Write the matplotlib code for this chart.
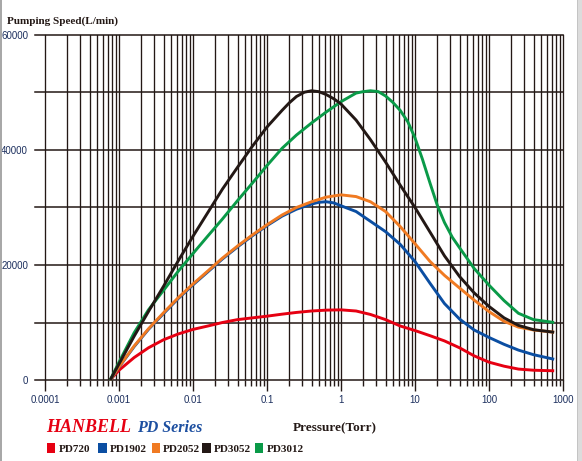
import matplotlib
matplotlib.use("Agg")
import matplotlib.pyplot as plt
from matplotlib.patches import Rectangle

# ---------------- data ----------------
series_names = ["PD720", "PD1902", "PD2052", "PD3052", "PD3012"]
series_colors = ["#e60012", "#0b4ea2", "#f07a22", "#231815", "#0a9a48"]

pd720_p = [0.00076, 0.001, 0.0016, 0.0025, 0.004, 0.0063, 0.01, 0.016, 0.025, 0.04,
           0.063, 0.1, 0.16, 0.25, 0.4, 0.63, 1, 1.6, 2.5, 4, 6.3, 10, 16, 25, 40,
           63, 100, 160, 250, 400, 760]
pd720_v = [0, 1700, 3900, 5600, 7000, 8000, 8800, 9400, 10000, 10500,
           10800, 11100, 11450, 11750, 12000, 12150, 12200, 12000, 11400, 10500, 9400, 8600, 7700, 6800, 5600,
           4200, 3100, 2400, 1900, 1700, 1600]

pd1902_p = [0.00076, 0.001, 0.0016, 0.0025, 0.004, 0.0063, 0.01, 0.016, 0.025, 0.04,
            0.063, 0.1, 0.16, 0.25, 0.4, 0.5, 0.63, 0.8, 1, 1.6, 2.5, 4, 6.3, 10, 16,
            25, 40, 63, 100, 160, 250, 400, 760]
pd1902_v = [0, 2250, 5800, 8800, 11550, 14150, 16550, 18850, 21050, 23150,
            25050, 26850, 28500, 29700, 30600, 30900, 31000, 30800, 30300, 29300, 27600, 25800, 23600, 20600, 16800,
            13300, 10600, 8700, 7400, 6200, 5200, 4400, 3600]

pd2052_p = [0.00076, 0.001, 0.0016, 0.0025, 0.004, 0.0063, 0.01, 0.016, 0.025, 0.04,
            0.063, 0.1, 0.16, 0.25, 0.4, 0.63, 1, 1.6, 2.5, 4, 6.3, 10, 16, 25, 40,
            63, 100, 160, 250, 400, 760]
pd2052_v = [0, 2300, 5900, 8900, 11700, 14300, 16700, 19000, 21200, 23300,
            25200, 27000, 28700, 30000, 31000, 31800, 32200, 31900, 31000, 29300, 26700, 23700, 20600, 18200, 16000,
            13900, 11900, 10200, 9200, 8700, 8300]

pd3052_p = [0.00076, 0.001, 0.0016, 0.0025, 0.004, 0.0063, 0.01, 0.016, 0.025, 0.04,
            0.063, 0.1, 0.16, 0.2, 0.25, 0.32, 0.4, 0.5, 0.63, 0.8, 1, 1.6, 2.5, 4, 6.3,
            10, 16, 25, 40, 63, 100, 160, 250, 400, 760]
pd3052_v = [0, 2800, 7600, 11900, 16300, 20700, 25000, 29200, 33200, 37000,
            40600, 44000, 46900, 48200, 49300, 50050, 50300, 50150, 49650, 48900, 48000, 45200, 41800, 37900, 33900,
            30000, 25700, 21600, 18000, 15150, 12800, 10800, 9500, 8750, 8300]

pd3012_p = [0.00076, 0.001, 0.0016, 0.0025, 0.004, 0.0063, 0.01, 0.016, 0.025, 0.04,
            0.063, 0.1, 0.16, 0.25, 0.4, 0.63, 1, 1.6, 2.0, 2.5, 3.2, 4, 5, 6.3, 8,
            10, 12.6, 16, 20, 25, 32, 40, 63, 100, 160, 250, 400, 760]
pd3012_v = [0, 3100, 8200, 12200, 15600, 18900, 22000, 25100, 28000, 31200,
            34200, 37300, 40300, 42600, 44700, 46600, 48400, 49900, 50150, 50300, 50150, 49400, 48300, 46900, 44900,
            42100, 38400, 34200, 30400, 27400, 24800, 23000, 19400, 16500, 13800, 11600, 10500, 10000]

x_tick_values = [0.0001, 0.001, 0.01, 0.1, 1, 10, 100, 1000]
x_tick_labels = ["0.0001", "0.001", "0.01", "0.1", "1", "10", "100", "1000"]
y_grid_values = [0, 10000, 20000, 30000, 40000, 50000, 60000]
y_tick_labels = ["0", "", "20000", "", "40000", "", "60000"]

# ---------------- figure ----------------
W, H = 582, 461
fig = plt.figure(figsize=(W / 100, H / 100), dpi=100)
fig.patch.set_facecolor("white")

left_px, right_px, top_px, bottom_px = 35, 563, 35, 380
ax = fig.add_axes([left_px / W, 1 - bottom_px / H, (right_px - left_px) / W, (bottom_px - top_px) / H])
ax.set_xscale("log")
ax.set_xlim(10 ** (-4 - 10 / 74), 1000)
ax.set_ylim(0, 60000)
for s in ax.spines.values():
    s.set_visible(False)
ax.set_facecolor("white")

grid_color = "#231815"
label_color = "#1c2f5e"

minor = [m * d for d in [0.0001, 0.001, 0.01, 0.1, 1, 10, 100] for m in range(2, 10)]
ax.set_xticks(x_tick_values)
ax.set_xticklabels(x_tick_labels)
ax.set_xticks(minor, minor=True)
ax.set_xticklabels([], minor=True)
ax.set_yticks(y_grid_values)
ax.set_yticklabels(y_tick_labels)

ax.tick_params(axis="x", which="major", length=8, width=1.0, color=grid_color,
               labelcolor=label_color, labelsize=7, pad=3)
ax.tick_params(axis="x", which="minor", length=4.5, width=1.0, color=grid_color)
ax.tick_params(axis="y", which="major", length=0, labelcolor=label_color, labelsize=7, pad=5)
for lab in ax.get_xticklabels() + ax.get_yticklabels():
    lab.set_fontfamily("Liberation Sans")

ax.grid(True, which="both", axis="x", color=grid_color, lw=0.95)
ax.grid(True, which="major", axis="y", color=grid_color, lw=1.1)
ax.set_axisbelow(True)
for gl in ax.get_xgridlines() + ax.get_ygridlines():
    gl.set_clip_on(False)
for gl in ax.xaxis.get_minorticklines() + ax.xaxis.get_majorticklines():
    gl.set_clip_on(False)

data = {
    "PD720": (pd720_p, pd720_v),
    "PD1902": (pd1902_p, pd1902_v),
    "PD2052": (pd2052_p, pd2052_v),
    "PD3052": (pd3052_p, pd3052_v),
    "PD3012": (pd3012_p, pd3012_v),
}
cmap = dict(zip(series_names, series_colors))
for name in ["PD720", "PD1902", "PD2052", "PD3012", "PD3052"]:
    p, v = data[name]
    ax.plot(p, v, color=cmap[name], lw=2.1, solid_capstyle="butt",
            solid_joinstyle="round", zorder=3, clip_on=False)

serif = "Liberation Serif"
fig.text(7 / W, 1 - 24 / H, "Pumping Speed(L/min)", fontfamily=serif, fontweight="bold",
         fontsize=8, ha="left", va="baseline", color="#231815")
fig.text(293 / W, 1 - 431.5 / H, "Pressure(Torr)", fontfamily=serif, fontweight="bold",
         fontsize=9.5, ha="left", va="baseline", color="#231815")
fig.text(46 / W, 1 - 431.5 / H, "HANBELL", fontfamily=serif, fontweight="bold", style="italic",
         fontsize=13, ha="left", va="baseline", color="#e60012")
fig.text(137 / W, 1 - 431.5 / H, "PD Series", fontfamily=serif, fontweight="bold", style="italic",
         fontsize=11.5, ha="left", va="baseline", color="#1d4fa0")

legend_sq_x = [46.7, 98.3, 151.7, 202.3, 255]
legend_tx_x = [59.3, 110, 163.3, 214, 266.7]
for name, col, sx, tx in zip(series_names, series_colors, legend_sq_x, legend_tx_x):
    fig.add_artist(Rectangle((sx / W, 1 - 452.5 / H), 8.3 / W, 9.3 / H,
                             transform=fig.transFigure, facecolor=col, edgecolor="none"))
    fig.text(tx / W, 1 - 452 / H, name, fontfamily=serif, fontweight="bold", fontsize=8,
             ha="left", va="baseline", color="#231815")

fig.add_artist(Rectangle((0, 0), 1.5 / W, 1, transform=fig.transFigure,
                         facecolor="#a8a8a8", edgecolor="none"))
fig.add_artist(Rectangle((577 / W, 0), 5 / W, 1, transform=fig.transFigure,
                         facecolor="#dcdcdc", edgecolor="none"))
fig.add_artist(Rectangle((577 / W, 0), 1.2 / W, 1, transform=fig.transFigure,
                         facecolor="#c4c4c4", edgecolor="none"))

fig.savefig("out.png", dpi=100, facecolor="white")
